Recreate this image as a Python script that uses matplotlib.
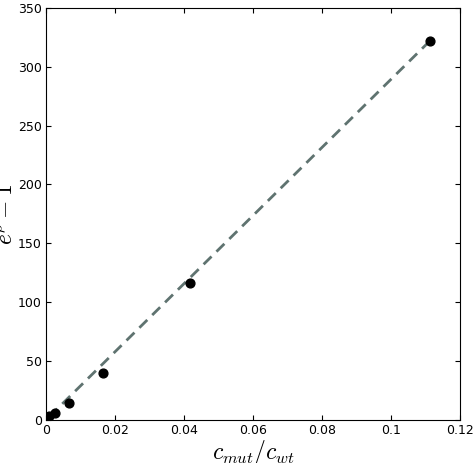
import matplotlib
matplotlib.use("Agg")
import matplotlib.pyplot as plt
import numpy as np

plt.rcParams['mathtext.fontset'] = 'cm'

x_vals = [0.001, 0.0026, 0.0066, 0.0165, 0.0418, 0.1112]
y_vals = [3, 6, 14, 40, 116, 322]
fit_x = [0.001, 0.1112]
slope = 2895.0

fig = plt.figure(figsize=(4.74, 4.63), dpi=100)
ax = fig.add_axes([0.097, 0.093, 0.874, 0.89])
fx = np.array(fit_x)
ax.plot(fx, slope * fx, '--', color='#5f7370', lw=2, dashes=(4, 2.5), zorder=1)
ax.scatter(x_vals, y_vals, s=40, color='black', zorder=2)
ax.set_xlim(0, 0.12)
ax.set_ylim(0, 350)
ax.set_xticks([0, 0.02, 0.04, 0.06, 0.08, 0.1, 0.12])
ax.set_xticklabels(['0', '0.02', '0.04', '0.06', '0.08', '0.1', '0.12'])
ax.set_yticks(range(0, 351, 50))
ax.tick_params(direction='in', labelsize=9, top=True, right=True, pad=3)
ax.set_xlabel(r'$c_{mut}/c_{wt}$', fontsize=17, labelpad=1)
ax.set_ylabel(r'$e^{\rho}-1$', fontsize=17, labelpad=0)
fig.savefig('out.png', dpi=100)
